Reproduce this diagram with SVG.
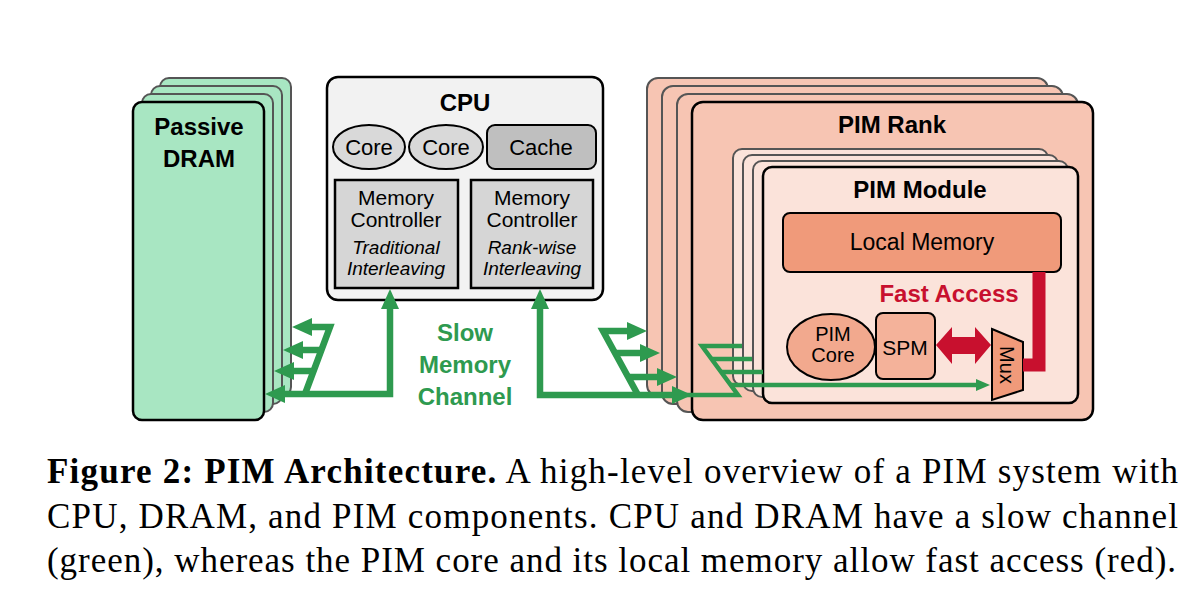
<svg xmlns="http://www.w3.org/2000/svg" width="1200" height="600" viewBox="0 0 1200 600">
<style>
text{font-family:"Liberation Sans",Arial,sans-serif;fill:#000}
.h{font-weight:bold;font-size:24px;text-anchor:middle}
.l{font-size:22px;text-anchor:middle}
.mc{font-size:21px;text-anchor:middle}
.it{font-size:19px;font-style:italic;text-anchor:middle}
.dram{fill:#a8e6c2;stroke:#555;stroke-width:2}
.rank{fill:#f7c5b3;stroke:#555;stroke-width:2}
.mod{fill:#fbe3da;stroke:#555;stroke-width:2}
.front{stroke:#000;stroke-width:2.5}
.g{fill:none;stroke:#2e9a4f;stroke-width:6.5;stroke-linejoin:miter}
.gt{fill:none;stroke:#2e9a4f;stroke-width:4.5;stroke-linejoin:miter}
.gl{font-weight:bold;font-size:24px;text-anchor:middle;fill:#2e9a4f}
.cap{font-family:"Liberation Serif","Times New Roman",serif;font-size:35px}
</style>
<defs>
<marker id="ag" viewBox="0 0 20 18" refX="4" refY="9" markerWidth="20" markerHeight="18" markerUnits="userSpaceOnUse" orient="auto-start-reverse"><path d="M0,0 L20,9 L0,18 z" fill="#2e9a4f"/></marker>
<marker id="as" viewBox="0 0 14 12" refX="4" refY="6" markerWidth="14" markerHeight="12" markerUnits="userSpaceOnUse" orient="auto"><path d="M0,0 L14,6 L0,12 z" fill="#2e9a4f"/></marker>
</defs>
<rect width="1200" height="600" fill="#fff"/>

<g id="passive-dram">
<rect class="dram" x="160" y="78" width="131" height="318" rx="9"/>
<rect class="dram" x="151" y="86" width="131" height="318" rx="9"/>
<rect class="dram" x="142" y="94" width="131" height="318" rx="9"/>
<rect class="dram front" x="133" y="102" width="131" height="318" rx="9"/>
<text class="h" x="199" y="135">Passive</text>
<text class="h" x="199" y="167">DRAM</text>
</g>

<g id="cpu">
<rect x="327" y="77" width="276" height="223" rx="11" fill="#f2f2f2" stroke="#000" stroke-width="2.5"/>
<text class="h" x="465" y="111">CPU</text>
<g id="core1"><ellipse cx="369" cy="147" rx="36" ry="22" fill="#d9d9d9" stroke="#000" stroke-width="2"/><text class="l" x="369" y="155">Core</text></g>
<g id="core2"><ellipse cx="446" cy="147" rx="37" ry="22" fill="#d9d9d9" stroke="#000" stroke-width="2"/><text class="l" x="446" y="155">Core</text></g>
<g id="cache"><rect x="487" y="125" width="109" height="44" rx="8" fill="#bfbfbf" stroke="#000" stroke-width="2"/><text class="l" x="541" y="155">Cache</text></g>
<g id="mc-traditional"><rect x="335" y="180" width="123" height="108" fill="#d6d6d6" stroke="#000" stroke-width="2.5"/>
<text class="mc" x="396" y="205">Memory</text><text class="mc" x="396" y="227">Controller</text>
<text class="it" x="396" y="254">Traditional</text><text class="it" x="396" y="275">Interleaving</text></g>
<g id="mc-rankwise"><rect x="471" y="180" width="122" height="108" fill="#d6d6d6" stroke="#000" stroke-width="2.5"/>
<text class="mc" x="532" y="205">Memory</text><text class="mc" x="532" y="227">Controller</text>
<text class="it" x="532" y="254">Rank-wise</text><text class="it" x="532" y="275">Interleaving</text></g>
</g>

<g id="pim-rank">
<rect class="rank" x="647" y="78" width="401" height="318" rx="11"/>
<rect class="rank" x="662" y="86" width="401" height="318" rx="11"/>
<rect class="rank" x="677" y="94" width="401" height="318" rx="11"/>
<rect class="rank front" x="692" y="102" width="401" height="318" rx="11"/>
<text class="h" x="892" y="133">PIM Rank</text>
</g>

<g id="pim-module">
<rect class="mod" x="733" y="149" width="315" height="236" rx="9"/>
<rect class="mod" x="743" y="155" width="315" height="236" rx="9"/>
<rect class="mod" x="753" y="161" width="315" height="236" rx="9"/>
<rect class="mod front" x="763" y="167" width="315" height="236" rx="9"/>
<text class="h" x="920" y="198">PIM Module</text>
</g>

<g id="local-memory">
<rect x="783" y="213" width="278" height="59" rx="7" fill="#f09a7a" stroke="#000" stroke-width="2"/>
<text class="l" x="922" y="250" style="font-size:23px">Local Memory</text>
</g>

<g id="pim-core">
<ellipse cx="831" cy="347" rx="44" ry="33" fill="#f2a98e" stroke="#000" stroke-width="2"/>
<text class="mc" x="833" y="341" style="font-size:20px">PIM</text><text class="mc" x="833" y="362" style="font-size:20px">Core</text>
</g>

<g id="spm">
<rect x="876" y="313" width="59" height="66" rx="7" fill="#f4b29a" stroke="#000" stroke-width="2"/>
<text class="l" x="905" y="355" style="font-size:21px">SPM</text>
</g>

<g id="mux">
<polygon points="992,329 1023,342 1023,390 992,400" fill="#f09a7a" stroke="#000" stroke-width="2"/>
<text class="l" transform="translate(1007,365) rotate(90)" x="0" y="7" style="font-size:20px">Mux</text>
</g>

<g id="connectors">
<path class="g" d="M281,394 H390 V305" marker-start="url(#ag)" marker-end="url(#ag)"/>
<path class="g" d="M305,394 L330,327 H308" marker-end="url(#ag)"/>
<path class="g" d="M321,350 H299" marker-end="url(#ag)"/>
<path class="g" d="M313,371 H290" marker-end="url(#ag)"/>
<path class="gt" d="M676,395 H738 L702,346 H742"/>
<path class="gt" d="M711.5,359 H752"/>
<path class="gt" d="M721,372 H763"/>
<path class="gt" d="M730.6,385 H980" marker-end="url(#as)"/>
<path class="g" d="M676,395 H540 V305" marker-start="url(#ag)" marker-end="url(#ag)"/>
<path class="g" d="M638,395 L603,331 H631" marker-end="url(#ag)"/>
<path class="g" d="M615,353 H644" marker-end="url(#ag)"/>
<path class="g" d="M628,377 H661" marker-end="url(#ag)"/>
<path d="M1039,272 V365 H1023" fill="none" stroke="#c8102e" stroke-width="13" stroke-linejoin="miter"/>
<polygon points="936,345 952,327 952,337 975,337 975,327 991,345 975,364 975,354 952,354 952,364" fill="#c8102e"/>
</g>

<g id="labels">
<text class="gl" x="465" y="341">Slow</text>
<text class="gl" x="465" y="373">Memory</text>
<text class="gl" x="465" y="405">Channel</text>
<text class="h" x="949" y="302" style="fill:#c8102e">Fast Access</text>
</g>

<g id="caption">
<text class="cap" x="47" y="483" textLength="1131" lengthAdjust="spacing"><tspan font-weight="bold">Figure 2: PIM Architecture.</tspan> A high-level overview of a PIM system with</text>
<text class="cap" x="47" y="528" textLength="1131" lengthAdjust="spacing">CPU, DRAM, and PIM components. CPU and DRAM have a slow channel</text>
<text class="cap" x="47" y="572" textLength="1129" lengthAdjust="spacing">(green), whereas the PIM core and its local memory allow fast access (red).</text>
</g>
</svg>
